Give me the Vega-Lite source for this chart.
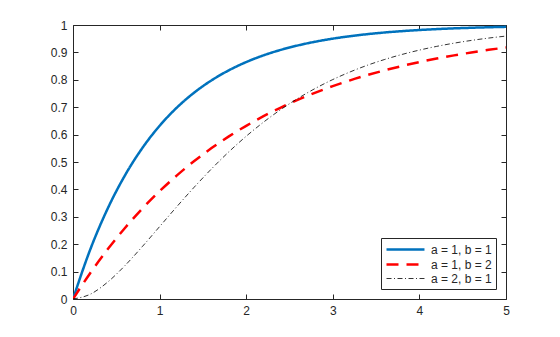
{
  "$schema": "https://vega.github.io/schema/vega-lite/v6.json",
  "width": 433,
  "height": 274,
  "autosize": "none",
  "padding": {"left": 73, "top": 25, "right": 54, "bottom": 38},
  "background": "white",
  "config": {
    "view": {"stroke": null},
    "font": "Liberation Sans",
    "axis": {
      "grid": false,
      "domainColor": "#262626",
      "tickColor": "#262626",
      "labelColor": "#262626",
      "labelFont": "Liberation Sans",
      "labelFontSize": 12,
      "labelFlush": false,
      "labelOverlap": false,
      "domainWidth": 1,
      "tickWidth": 1,
      "title": null
    }
  },
  "data": {"values": [
    {"x":0,"y":0,"s":"a = 1, b = 1"},{"x":0.2,"y":0.1813,"s":"a = 1, b = 1"},{"x":0.4,"y":0.3297,"s":"a = 1, b = 1"},{"x":0.6,"y":0.4512,"s":"a = 1, b = 1"},{"x":0.8,"y":0.5507,"s":"a = 1, b = 1"},{"x":1.0,"y":0.6321,"s":"a = 1, b = 1"},{"x":1.2,"y":0.6988,"s":"a = 1, b = 1"},{"x":1.4,"y":0.7534,"s":"a = 1, b = 1"},{"x":1.6,"y":0.7981,"s":"a = 1, b = 1"},{"x":1.8,"y":0.8347,"s":"a = 1, b = 1"},{"x":2.0,"y":0.8647,"s":"a = 1, b = 1"},{"x":2.2,"y":0.8892,"s":"a = 1, b = 1"},{"x":2.4,"y":0.9093,"s":"a = 1, b = 1"},{"x":2.6,"y":0.9257,"s":"a = 1, b = 1"},{"x":2.8,"y":0.9392,"s":"a = 1, b = 1"},{"x":3.0,"y":0.9502,"s":"a = 1, b = 1"},{"x":3.2,"y":0.9592,"s":"a = 1, b = 1"},{"x":3.4,"y":0.9666,"s":"a = 1, b = 1"},{"x":3.6,"y":0.9727,"s":"a = 1, b = 1"},{"x":3.8,"y":0.9776,"s":"a = 1, b = 1"},{"x":4.0,"y":0.9817,"s":"a = 1, b = 1"},{"x":4.2,"y":0.985,"s":"a = 1, b = 1"},{"x":4.4,"y":0.9877,"s":"a = 1, b = 1"},{"x":4.6,"y":0.9899,"s":"a = 1, b = 1"},{"x":4.8,"y":0.9918,"s":"a = 1, b = 1"},{"x":5.0,"y":0.9933,"s":"a = 1, b = 1"},
    {"x":0,"y":0,"s":"a = 1, b = 2"},{"x":0.2,"y":0.0952,"s":"a = 1, b = 2"},{"x":0.4,"y":0.1813,"s":"a = 1, b = 2"},{"x":0.6,"y":0.2592,"s":"a = 1, b = 2"},{"x":0.8,"y":0.3297,"s":"a = 1, b = 2"},{"x":1.0,"y":0.3935,"s":"a = 1, b = 2"},{"x":1.2,"y":0.4512,"s":"a = 1, b = 2"},{"x":1.4,"y":0.5034,"s":"a = 1, b = 2"},{"x":1.6,"y":0.5507,"s":"a = 1, b = 2"},{"x":1.8,"y":0.5934,"s":"a = 1, b = 2"},{"x":2.0,"y":0.6321,"s":"a = 1, b = 2"},{"x":2.2,"y":0.6671,"s":"a = 1, b = 2"},{"x":2.4,"y":0.6988,"s":"a = 1, b = 2"},{"x":2.6,"y":0.7275,"s":"a = 1, b = 2"},{"x":2.8,"y":0.7534,"s":"a = 1, b = 2"},{"x":3.0,"y":0.7769,"s":"a = 1, b = 2"},{"x":3.2,"y":0.7981,"s":"a = 1, b = 2"},{"x":3.4,"y":0.8173,"s":"a = 1, b = 2"},{"x":3.6,"y":0.8347,"s":"a = 1, b = 2"},{"x":3.8,"y":0.8504,"s":"a = 1, b = 2"},{"x":4.0,"y":0.8647,"s":"a = 1, b = 2"},{"x":4.2,"y":0.8775,"s":"a = 1, b = 2"},{"x":4.4,"y":0.8892,"s":"a = 1, b = 2"},{"x":4.6,"y":0.8997,"s":"a = 1, b = 2"},{"x":4.8,"y":0.9093,"s":"a = 1, b = 2"},{"x":5.0,"y":0.9179,"s":"a = 1, b = 2"},
    {"x":0,"y":0,"s":"a = 2, b = 1"},{"x":0.2,"y":0.0175,"s":"a = 2, b = 1"},{"x":0.4,"y":0.0616,"s":"a = 2, b = 1"},{"x":0.6,"y":0.1219,"s":"a = 2, b = 1"},{"x":0.8,"y":0.1912,"s":"a = 2, b = 1"},{"x":1.0,"y":0.2642,"s":"a = 2, b = 1"},{"x":1.2,"y":0.3374,"s":"a = 2, b = 1"},{"x":1.4,"y":0.4082,"s":"a = 2, b = 1"},{"x":1.6,"y":0.4751,"s":"a = 2, b = 1"},{"x":1.8,"y":0.5372,"s":"a = 2, b = 1"},{"x":2.0,"y":0.594,"s":"a = 2, b = 1"},{"x":2.2,"y":0.6454,"s":"a = 2, b = 1"},{"x":2.4,"y":0.6916,"s":"a = 2, b = 1"},{"x":2.6,"y":0.7326,"s":"a = 2, b = 1"},{"x":2.8,"y":0.7689,"s":"a = 2, b = 1"},{"x":3.0,"y":0.8009,"s":"a = 2, b = 1"},{"x":3.2,"y":0.8288,"s":"a = 2, b = 1"},{"x":3.4,"y":0.8532,"s":"a = 2, b = 1"},{"x":3.6,"y":0.8743,"s":"a = 2, b = 1"},{"x":3.8,"y":0.8926,"s":"a = 2, b = 1"},{"x":4.0,"y":0.9084,"s":"a = 2, b = 1"},{"x":4.2,"y":0.922,"s":"a = 2, b = 1"},{"x":4.4,"y":0.9337,"s":"a = 2, b = 1"},{"x":4.6,"y":0.9437,"s":"a = 2, b = 1"},{"x":4.8,"y":0.9523,"s":"a = 2, b = 1"},{"x":5.0,"y":0.9596,"s":"a = 2, b = 1"}
  ]},
  "layer": [
    {
      "mark": {"type": "line", "interpolate": "monotone", "clip": true},
      "encoding": {
        "x": {"field": "x", "type": "quantitative", "scale": {"domain": [0, 5], "nice": false},
              "axis": {"orient": "bottom", "values": [0,1,2,3,4,5], "tickSize": -5, "labelPadding": 11, "format": "~g"}},
        "y": {"field": "y", "type": "quantitative", "scale": {"domain": [0, 1], "nice": false},
              "axis": {"orient": "left", "values": [0,0.1,0.2,0.3,0.4,0.5,0.6,0.7,0.8,0.9,1], "tickSize": -5, "labelPadding": 11, "format": "~g"}},
        "color": {"field": "s", "type": "nominal",
                  "scale": {"domain": ["a = 1, b = 1", "a = 1, b = 2", "a = 2, b = 1"], "range": ["#0072BD", "#FF0000", "#000000"]},
                  "legend": {"title": null, "orient": "bottom-right", "offset": 10, "fillColor": "white", "strokeColor": "#262626",
                             "padding": 4, "symbolType": "M-1,0H5.33", "symbolSize": 144, "labelFontSize": 12, "labelFont": "Liberation Sans",
                             "labelColor": "#262626", "rowPadding": 1, "labelOffset": 31}},
        "strokeDash": {"field": "s", "type": "nominal",
                       "scale": {"domain": ["a = 1, b = 1", "a = 1, b = 2", "a = 2, b = 1"], "range": [[1, 0], [12, 8], [5, 2.5, 1, 2.5]]},
                       "legend": {"title": null, "orient": "bottom-right"}},
        "strokeWidth": {"field": "s", "type": "nominal",
                        "scale": {"type": "ordinal", "domain": ["a = 1, b = 1", "a = 1, b = 2", "a = 2, b = 1"], "range": [2.5, 2.5, 0.8]},
                        "legend": {"title": null, "orient": "bottom-right"}}
      }
    },
    {
      "mark": {"type": "line", "opacity": 0},
      "encoding": {
        "x": {"field": "x", "type": "quantitative", "scale": {"domain": [0, 5], "nice": false},
              "axis": {"orient": "top", "values": [0,1,2,3,4,5], "tickSize": -5, "labels": false}},
        "y": {"field": "y", "type": "quantitative", "scale": {"domain": [0, 1], "nice": false},
              "axis": {"orient": "right", "values": [0,0.1,0.2,0.3,0.4,0.5,0.6,0.7,0.8,0.9,1], "tickSize": -5, "labels": false}},
        "detail": {"field": "s"}
      }
    }
  ],
  "resolve": {"axis": {"x": "independent", "y": "independent"}}
}
